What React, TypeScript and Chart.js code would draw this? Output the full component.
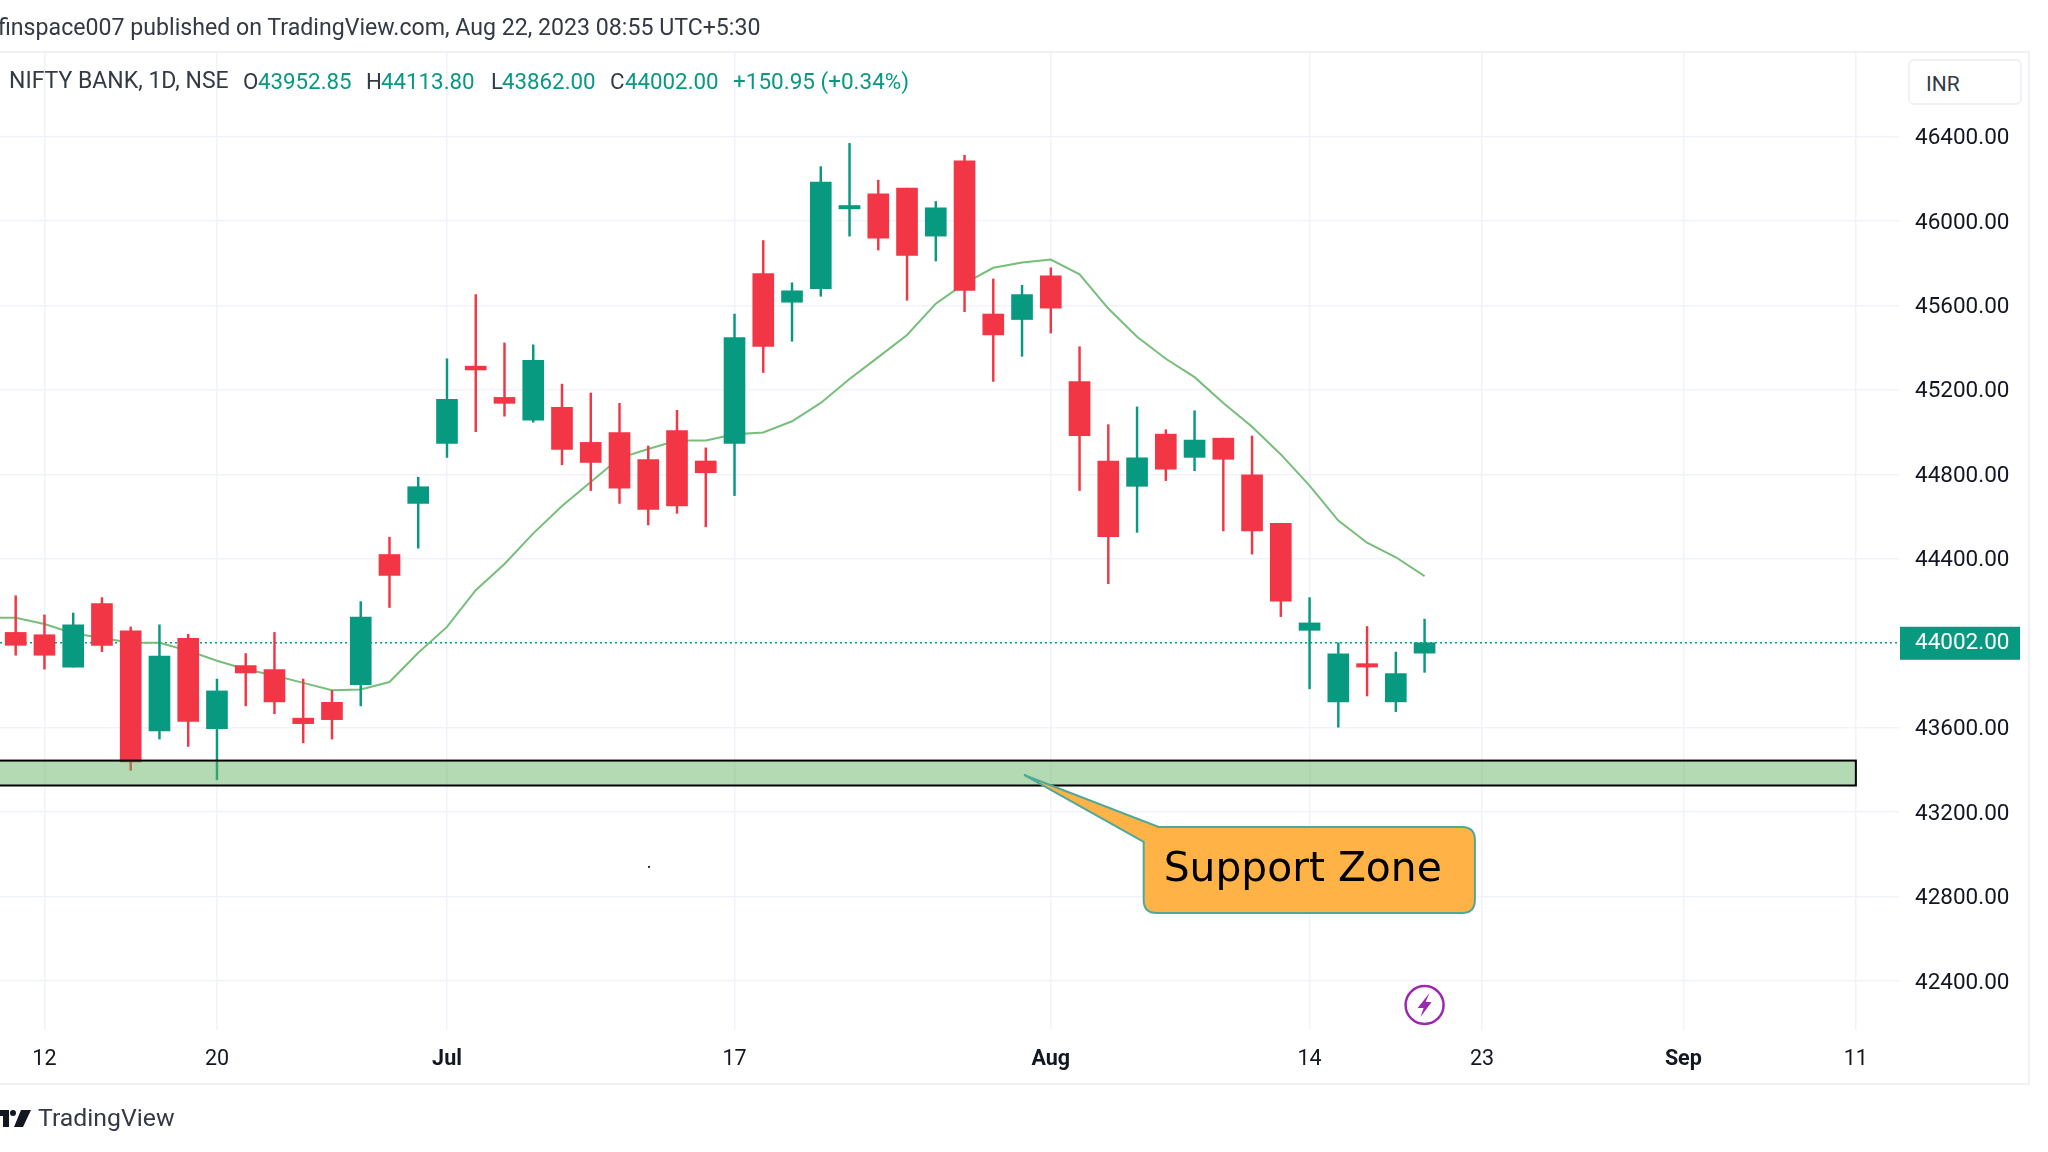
import { useEffect, useRef } from "react"
import { Chart, registerables } from "chart.js"

Chart.register(...registerables)

const UP = "#089981"
const DOWN = "#F23645"
const FONT = "Roboto, sans-serif"

// one entry per trading day, starting 9 Jun 2023
const opens = [44051, 44040, 43887, 44188, 44059, 43584, 44023, 43595, 43894, 43875, 43645, 43720, 43804, 44420, 44662, 44946, 45312, 45164, 45056, 45117, 44951, 44998, 44870, 45007, 44863, 44946, 45751, 45615, 45679, 46057, 46128, 46155, 45928, 46285, 45559, 45533, 45740, 45239, 44863, 44743, 44990, 44880, 44971, 44797, 44568, 44061, 43722, 43903, 43722, 43952.85]
const closes = [43990, 43943, 44087, 43990, 43438, 43939, 43629, 43774, 43859, 43722, 43619, 43638, 44124, 44321, 44741, 45155, 45294, 45136, 45340, 44918, 44856, 44734, 44633, 44650, 44807, 45448, 45406, 45669, 46184, 46073, 45918, 45836, 46062, 45671, 45460, 45651, 45587, 44983, 44504, 44878, 44824, 44962, 44871, 44532, 44199, 44096, 43950, 43887, 43856, 44002]
const highs = [44225, 44134, 44143, 44216, 44077, 44087, 44042, 43830, 43951, 44051, 43830, 43776, 44197, 44502, 44786, 45347, 45651, 45422, 45413, 45227, 45185, 45136, 44934, 45103, 44925, 45559, 45907, 45707, 46257, 46367, 46193, 46155, 46092, 46311, 45725, 45695, 45778, 45404, 45035, 45119, 45011, 45101, 44971, 44981, 44568, 44216, 44002, 44079, 43958, 44113.8]
const lows = [43943, 43877, 43887, 43960, 43398, 43546, 43511, 43354, 43703, 43666, 43528, 43546, 43703, 44169, 44450, 44880, 45002, 45075, 45047, 44845, 44723, 44662, 44560, 44615, 44551, 44699, 45282, 45430, 45643, 45928, 45862, 45624, 45810, 45570, 45240, 45359, 45469, 44723, 44282, 44525, 44770, 44817, 44532, 44422, 44126, 43784, 43602, 43750, 43676, 43862]

// moving average, first value is the day before the first candle
const smaValues = [44120, 44120, 44091, 44047, 44025, 44002, 44002, 43964, 43917, 43877, 43847, 43812, 43777, 43781, 43816, 43955, 44077, 44251, 44375, 44520, 44650, 44763, 44877, 44920, 44960, 44960, 44990, 44998, 45051, 45138, 45251, 45355, 45460, 45608, 45704, 45778, 45803, 45817, 45747, 45585, 45451, 45347, 45260, 45138, 45025, 44894, 44746, 44581, 44476, 44407, 44318]

const yTicks = [42400, 42800, 43200, 43600, 44400, 44800, 45200, 45600, 46000, 46400]
const xTickDays = [1, 7, 15, 25, 36, 45, 51, 58, 64]
const xTickLabels = ["12", "20", "Jul", "17", "Aug", "14", "23", "Sep", "11"]
const boldLabels = ["Jul", "Aug", "Sep"]

const lastPrice = 44002
const zoneTop = 43444
const zoneBottom = 43326
const zoneEndDay = 64

const X_MIN = -0.546
const X_MAX = 65.5
const Y_MIN = 42168
const Y_MAX = 46800

const days = opens.map((_, i) => i)
const candleColors = days.map((i) => (closes[i] >= opens[i] ? UP : DOWN))

// support zone, callout, price tag, the little bolt icon
const overlayPlugin = {
  id: "overlay",
  afterDatasetsDraw(chart: any) {
    const { ctx, chartArea, scales } = chart
    const xs = scales.x
    const ys = scales.y

    ctx.save()
    ctx.beginPath()
    ctx.rect(chartArea.left, chartArea.top, chartArea.right - chartArea.left, chartArea.bottom - chartArea.top)
    ctx.clip()

    const zTop = ys.getPixelForValue(zoneTop)
    const zBottom = ys.getPixelForValue(zoneBottom)
    const zRight = xs.getPixelForValue(zoneEndDay)
    ctx.fillStyle = "rgba(96, 178, 96, 0.48)"
    ctx.fillRect(-6, zTop, zRight + 6, zBottom - zTop)
    ctx.strokeStyle = "#000"
    ctx.lineWidth = 2
    ctx.strokeRect(-6, zTop, zRight + 6, zBottom - zTop)

    // stray speck on the published picture
    ctx.fillStyle = "#333"
    ctx.fillRect(xs.getPixelForValue(21.99), ys.getPixelForValue(42945), 2, 2)

    // callout
    const left = xs.getPixelForValue(39.23)
    const right = xs.getPixelForValue(50.75)
    const top = ys.getPixelForValue(43130)
    const bottom = ys.getPixelForValue(42722)
    const tipX = xs.getPixelForValue(35.07)
    const tipY = ys.getPixelForValue(43376)
    const r = 13
    ctx.beginPath()
    ctx.moveTo(tipX, tipY)
    ctx.lineTo(left + 15, top)
    ctx.lineTo(right - r, top)
    ctx.quadraticCurveTo(right, top, right, top + r)
    ctx.lineTo(right, bottom - r)
    ctx.quadraticCurveTo(right, bottom, right - r, bottom)
    ctx.lineTo(left + r, bottom)
    ctx.quadraticCurveTo(left, bottom, left, bottom - r)
    ctx.lineTo(left, top + 15)
    ctx.closePath()
    ctx.fillStyle = "#FFB347"
    ctx.fill()
    ctx.strokeStyle = "#4FA99B"
    ctx.lineWidth = 2
    ctx.stroke()

    ctx.fillStyle = "#000"
    ctx.font = "40.8px 'DejaVu Sans'"
    ctx.textAlign = "left"
    ctx.textBaseline = "middle"
    ctx.fillText("Support Zone", left + 20, (top + bottom) / 2)

    // bolt marker under the last candle
    const cx = xs.getPixelForValue(49)
    const cy = 1005
    ctx.beginPath()
    ctx.arc(cx, cy, 19, 0, Math.PI * 2)
    ctx.fillStyle = "#fff"
    ctx.fill()
    ctx.strokeStyle = "#9C27B0"
    ctx.lineWidth = 2.5
    ctx.stroke()
    ctx.beginPath()
    ctx.moveTo(cx + 5, cy - 12)
    ctx.lineTo(cx - 7, cy + 3)
    ctx.lineTo(cx - 1, cy + 3)
    ctx.lineTo(cx - 4, cy + 12)
    ctx.lineTo(cx + 7, cy - 3)
    ctx.lineTo(cx + 1, cy - 3)
    ctx.closePath()
    ctx.fillStyle = "#9C27B0"
    ctx.fill()
    ctx.restore()

    // last price tag on the axis
    const py = ys.getPixelForValue(lastPrice)
    ctx.save()
    ctx.fillStyle = UP
    ctx.fillRect(chartArea.right + 1, py - 16, 120, 33)
    ctx.fillStyle = "#fff"
    ctx.font = "22.5px " + FONT
    ctx.textAlign = "left"
    ctx.textBaseline = "middle"
    ctx.fillText(lastPrice.toFixed(2), chartArea.right + 16, py + 1)
    ctx.restore()
  },
}

function CandleChart() {
  const chartRef = useRef<HTMLCanvasElement>(null)

  useEffect(() => {
    if (!chartRef.current) return
    const chart = new Chart(chartRef.current, {
      type: "bar",
      plugins: [overlayPlugin],
      data: {
        datasets: [
          {
            type: "line",
            label: "Last",
            data: [
              { x: X_MIN, y: lastPrice },
              { x: X_MAX, y: lastPrice },
            ],
            borderColor: UP,
            borderWidth: 1.5,
            borderDash: [2, 3],
            pointRadius: 0,
            order: 4,
          },
          {
            type: "line",
            label: "SMA",
            data: smaValues.map((v, i) => ({ x: i - 1, y: v })),
            borderColor: "#76BE7A",
            borderWidth: 2,
            pointRadius: 0,
            tension: 0,
            order: 3,
          },
          {
            label: "Wick",
            data: days.map((i) => ({ x: i, y: [lows[i], highs[i]] })),
            backgroundColor: candleColors,
            barThickness: 1.8,
            grouped: false,
            order: 2,
          },
          {
            label: "Body",
            data: days.map((i) => ({ x: i, y: [opens[i], closes[i]] })),
            backgroundColor: candleColors,
            barThickness: 21,
            grouped: false,
            order: 1,
          },
        ],
      } as any,
      options: {
        responsive: false,
        animation: false,
        devicePixelRatio: 1,
        layout: { padding: { top: 52, left: 0, right: 0, bottom: 0 } },
        plugins: {
          legend: { display: false },
          tooltip: { enabled: false },
        },
        scales: {
          x: {
            type: "linear",
            min: X_MIN,
            max: X_MAX,
            offset: false,
            border: { display: false },
            grid: { color: "#F0F3FA", lineWidth: 1.5, drawTicks: false, offset: false },
            afterBuildTicks: (scale: any) => {
              scale.ticks = xTickDays.map((value) => ({ value }))
            },
            afterFit: (scale: any) => {
              scale.height = 122
            },
            ticks: {
              autoSkip: false,
              maxRotation: 0,
              padding: 17,
              color: "#131722",
              font: (ctx: any) => ({
                family: FONT,
                size: 21.5,
                weight: boldLabels.includes(xTickLabels[xTickDays.indexOf(ctx.tick?.value)]) ? "bold" : "normal",
              }),
              callback: (value: any) => xTickLabels[xTickDays.indexOf(value)],
            },
          },
          y: {
            type: "linear",
            position: "right",
            min: Y_MIN,
            max: Y_MAX,
            border: { display: false },
            grid: { color: "#F0F3FA", lineWidth: 1.5, drawTicks: false },
            afterBuildTicks: (scale: any) => {
              scale.ticks = yTicks.map((value) => ({ value }))
            },
            afterFit: (scale: any) => {
              scale.width = 149
            },
            ticks: {
              padding: 16,
              labelOffset: 2,
              color: "#131722",
              font: { family: FONT, size: 22.5 },
              callback: (value: any) => Number(value).toFixed(2),
            },
          },
        },
      } as any,
    })
    return () => chart.destroy()
  }, [])

  return <canvas ref={chartRef} width={2048} height={1152} style={{ position: "absolute", left: 0, top: 0 }} />
}

const textStyle = (left: number, top: number, size: number, color: string) =>
  ({
    position: "absolute",
    left,
    top,
    fontFamily: FONT,
    fontSize: size,
    lineHeight: "30px",
    color,
    whiteSpace: "pre",
  }) as const

export default function App() {
  return (
    <div style={{ position: "relative", width: 2048, height: 1152, overflow: "hidden", background: "#fff" }}>
      <style>{"body{margin:0}"}</style>
      <CandleChart />
      {/* chart frame */}
      <div style={{ position: "absolute", left: -4, top: 51, width: 2030, height: 1030, border: "2.5px solid #F0F1F4" }} />

      <div style={textStyle(-2, 13, 23.15, "#333a45")}>finspace007 published on TradingView.com, Aug 22, 2023 08:55 UTC+5:30</div>

      <div style={textStyle(9, 66, 23, "#333a45")}>NIFTY BANK, 1D, NSE</div>
      <div style={textStyle(243, 66, 22.3, "#333a45")}>O</div>
      <div style={textStyle(258, 66, 22.3, UP)}>43952.85</div>
      <div style={textStyle(366, 66, 22.3, "#333a45")}>H</div>
      <div style={textStyle(381, 66, 22.3, UP)}>44113.80</div>
      <div style={textStyle(491, 66, 22.3, "#333a45")}>L</div>
      <div style={textStyle(502, 66, 22.3, UP)}>43862.00</div>
      <div style={textStyle(610, 66, 22.3, "#333a45")}>C</div>
      <div style={textStyle(625, 66, 22.3, UP)}>44002.00</div>
      <div style={textStyle(733, 66, 22.5, UP)}>+150.95 (+0.34%)</div>

      <div
        style={{
          position: "absolute",
          left: 1908,
          top: 59,
          width: 114,
          height: 46,
          paddingLeft: 16,
          boxSizing: "border-box",
          border: "2px solid #F0F1F4",
          borderRadius: 6,
          fontFamily: FONT,
          fontSize: 21,
          lineHeight: "46px",
          color: "#333a45",
          background: "#fff",
        }}
      >
        INR
      </div>

      <svg style={{ position: "absolute", left: 0, top: 1107 }} width="32" height="22" viewBox="0 0 32 22">
        <path d="M0 3H9V20H3V9H0Z M13 3A3 3 0 1 1 13 9A3 3 0 1 1 13 3Z M21 3H31L23 20H14Z" fill="#131722" />
      </svg>
      <div style={textStyle(38, 1103, 24.8, "#333a45")}>TradingView</div>
    </div>
  )
}
